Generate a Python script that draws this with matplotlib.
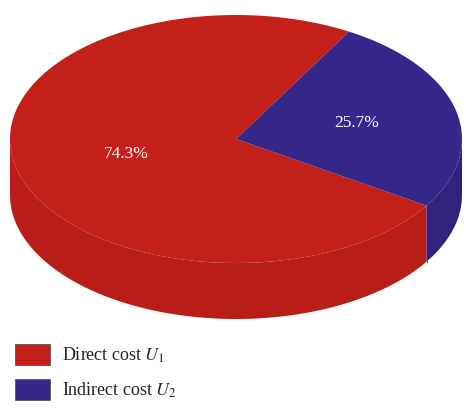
import numpy as np
import matplotlib
matplotlib.use("Agg")
import matplotlib.pyplot as plt
from matplotlib.patches import Polygon, Rectangle

labels = ["Direct cost $U_1$", "Indirect cost $U_2$"]
values = [74.3, 25.7]
pct_labels = ["74.3%", "25.7%"]
colors = ["#C4201A", "#36288A"]
side_colors = ["#B81D17", "#30237C"]

plt.rcParams['font.family'] = ['Liberation Serif', 'DejaVu Serif']
plt.rcParams['mathtext.fontset'] = 'stix'

fig = plt.figure(figsize=(4.74, 4.19), dpi=100)
ax = fig.add_axes([0, 0, 1, 1])
ax.set_xlim(0, 474); ax.set_ylim(419, 0); ax.axis('off')

cx, cy, rx, ry, depth = 236, 139, 226, 124, 56

def pt(a, dy=0):
    r = np.radians(a)
    return cx + rx*np.cos(r), cy - ry*np.sin(r) + dy

blue_end = 60.0
blue_start = blue_end - 360*values[1]/100
red_start = blue_end
red_end = blue_start + 360
ranges = [(red_start, red_end), (blue_start, blue_end)]
label_f = [0.5, 0.55]

for (a0, a1), sc in zip(ranges, side_colors):
    for k in range(-1, 2):
        lo = max(a0, 180 + 360*k); hi = min(a1, 360 + 360*k)
        if hi > lo:
            angs = np.linspace(lo, hi, 100)
            top = [pt(t) for t in angs]
            bot = [pt(t, depth) for t in angs[::-1]]
            ax.add_patch(Polygon(top + bot, closed=True, fc=sc, ec='none'))
xb, yb = pt(blue_start)
ax.plot([xb, xb], [yb, yb + depth], color='#8a1a18', lw=0.6)

for (a0, a1), c, pl, f in zip(ranges, colors, pct_labels, label_f):
    angs = np.linspace(a0, a1, 200)
    ax.add_patch(Polygon([(cx, cy)] + [pt(t) for t in angs], closed=True, fc=c, ec='none'))
    r = np.radians((a0 + a1)/2)
    ax.text(cx + f*rx*np.cos(r), cy - f*ry*np.sin(r), pl, color='white',
            fontsize=12.5, ha='center', va='center')

for i, (lab, c) in enumerate(zip(labels, colors)):
    y = 344 + 35*i
    ax.add_patch(Rectangle((15, y), 35, 21, fc=c, ec='#555555', lw=0.6))
    ax.text(62, y + 11, lab, fontsize=13, va='center', ha='left', color='#222222')

fig.savefig("out.png", dpi=100)
